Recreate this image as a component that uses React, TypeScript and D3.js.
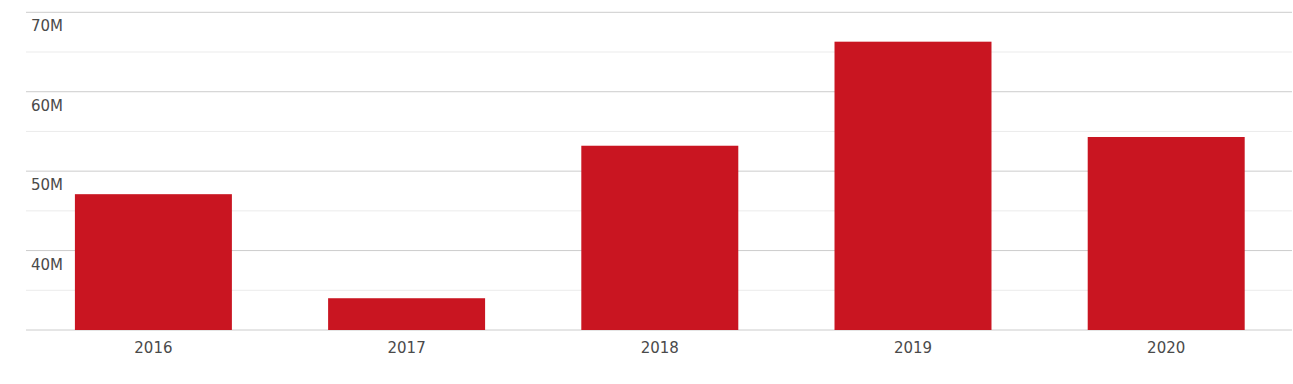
import React from "react";
import * as d3 from "d3";

const categories = ["2016", "2017", "2018", "2019", "2020"];
const values = [47.1e6, 34.0e6, 53.2e6, 66.3e6, 54.3e6];
const majorTicks = [30e6, 40e6, 50e6, 60e6, 70e6];
const minorTicks = [35e6, 45e6, 55e6, 65e6];

const W = 1293;
const H = 384;
const left = 26;
const right = 1292;
const top = 12.3;
const bottom = 330;

export default function App() {
  const x = d3.scaleBand<string>().domain(categories).range([left + 0.8, right + 0.8]).paddingInner(0.38).paddingOuter(0.19);
  const y = d3.scaleLinear().domain([30e6, 70e6]).range([bottom, top]);
  const fmt = (v: number) => `${v / 1e6}M`;
  return (
    <svg width={W} height={H} style={{ position: "absolute", left: 0, top: 0, display: "block" }}>
      <rect x={0} y={0} width={W} height={H} fill="#fff" />
      {minorTicks.map((t) => (
        <line key={"m" + t} x1={left} x2={right} y1={y(t)} y2={y(t)} stroke="#ebebeb" strokeWidth={1} />
      ))}
      {majorTicks.map((t) => (
        <line key={"M" + t} x1={left} x2={right} y1={y(t)} y2={y(t)} stroke="#cccccc" strokeWidth={1} />
      ))}
      {categories.map((c, i) => (
        <rect key={c} x={x(c)} y={y(values[i])} width={x.bandwidth()} height={bottom - y(values[i])} fill="#c91521" />
      ))}
      {majorTicks.filter((t) => t > 30e6).map((t) => (
        <text key={"t" + t} x={31} y={y(t) + 19} fontFamily="DejaVu Sans" fontSize={15} fill="#4a4a4a">
          {fmt(t)}
        </text>
      ))}
      {categories.map((c) => (
        <text key={"x" + c} x={(x(c) as number) + x.bandwidth() / 2} y={353} textAnchor="middle" fontFamily="DejaVu Sans" fontSize={15} fill="#4a4a4a">
          {c}
        </text>
      ))}
    </svg>
  );
}
